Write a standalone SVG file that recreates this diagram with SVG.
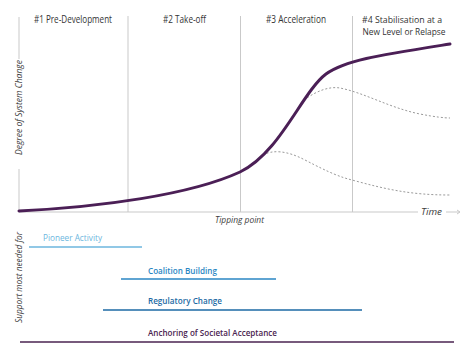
<svg xmlns="http://www.w3.org/2000/svg" width="474" height="359" viewBox="0 0 474 359">
<style>
.hdr{font-family:"Open Sans","Liberation Sans",sans-serif;font-size:10px;fill:#333;text-anchor:middle}
.hdr2{font-size:9.2px}
.ax{font-family:"Open Sans","Liberation Sans",sans-serif;font-size:9px;font-style:italic;fill:#3c3c3c}
.lbl{font-family:"Open Sans","Liberation Sans",sans-serif;font-size:9.5px;font-weight:600}
.grid{stroke:#c9c9c9;stroke-width:1;fill:none}
.dash{stroke:#9a9a9a;stroke-width:1;stroke-dasharray:2 2;fill:none}
</style>
<rect width="474" height="359" fill="#fff"/>
<g id="grid">
<line class="grid" x1="128" y1="16" x2="128" y2="212"/>
<line class="grid" x1="240.5" y1="16" x2="240.5" y2="212"/>
<line class="grid" x1="352.5" y1="16" x2="352.5" y2="212"/>
<line class="grid" x1="19" y1="17" x2="19" y2="59"/>
<line class="grid" x1="19" y1="169" x2="19" y2="212"/>
<line class="grid" x1="19" y1="212" x2="418" y2="212"/>
<line class="grid" x1="446" y1="212" x2="460" y2="212"/>
<path class="grid" d="M457,210 L460,212 L457,214"/>
</g>
<g id="headers">
<text class="hdr" x="73" y="23" textLength="78" lengthAdjust="spacingAndGlyphs">#1 Pre-Development</text>
<text class="hdr" x="184.5" y="23" textLength="43" lengthAdjust="spacingAndGlyphs">#2 Take-off</text>
<text class="hdr" x="296" y="23" textLength="60" lengthAdjust="spacingAndGlyphs">#3 Acceleration</text>
<text class="hdr hdr2" x="402" y="22.5" textLength="80" lengthAdjust="spacingAndGlyphs">#4 Stabilisation at a</text>
<text class="hdr hdr2" x="404" y="35" textLength="83" lengthAdjust="spacingAndGlyphs">New Level or Relapse</text>
</g>
<g id="axis-labels">
<text class="ax" transform="translate(21.5,155) rotate(-90)" textLength="95" lengthAdjust="spacingAndGlyphs">Degree of System Change</text>
<text class="ax" x="215" y="223" textLength="49" lengthAdjust="spacingAndGlyphs">Tipping point</text>
<text class="ax" x="421" y="215" textLength="21" lengthAdjust="spacingAndGlyphs">Time</text>
<text class="ax" transform="translate(21.5,323) rotate(-90)" textLength="91" lengthAdjust="spacingAndGlyphs">Support most needed for</text>
</g>
<g id="connectors">
<path class="dash" d="M263,155 C272,150 286,150 305,160 C330,173 340,177 352,180 C385,189 410,195 450,195"/>
<path class="dash" d="M304,100 C315,92 328,86 340,88 C365,93 390,108 420,114 C435,117 445,118 450,118"/>
<path d="M19,211 C100,207 190,195 240,172 C280,153 302,92 326,74 C345,60 380,55 450,44" fill="none" stroke="#4b1f56" stroke-width="3" stroke-linecap="round"/>
</g>
<g id="pioneer">
<text class="lbl" x="43" y="241" fill="#6cb6de" style="font-weight:400" textLength="59" lengthAdjust="spacingAndGlyphs">Pioneer Activity</text>
<line x1="29" y1="247" x2="142" y2="247" stroke="#6cb6de" stroke-width="1.5"/>
</g>
<g id="coalition">
<text class="lbl" x="148" y="274" fill="#2a86c3" textLength="69" lengthAdjust="spacingAndGlyphs">Coalition Building</text>
<line x1="121" y1="279" x2="276" y2="279" stroke="#2a86c3" stroke-width="1.5"/>
</g>
<g id="regulatory">
<text class="lbl" x="148" y="304" fill="#1d6aa4" textLength="74" lengthAdjust="spacingAndGlyphs">Regulatory Change</text>
<line x1="103" y1="310" x2="362" y2="310" stroke="#1d6aa4" stroke-width="1.5"/>
</g>
<g id="anchoring">
<text class="lbl" x="148" y="336" fill="#4a2350" textLength="129" lengthAdjust="spacingAndGlyphs">Anchoring of Societal Acceptance</text>
<line x1="20" y1="342" x2="454" y2="342" stroke="#4a2350" stroke-width="1.5"/>
</g>
</svg>
